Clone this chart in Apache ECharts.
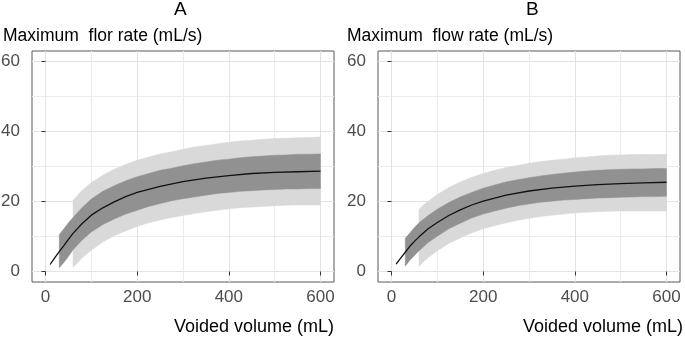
<!DOCTYPE html>
<html>
<head>
<meta charset="utf-8">
<script src="https://cdn.jsdelivr.net/npm/echarts@6.0.0/dist/echarts.min.js"></script>
<style>
  html, body { margin: 0; padding: 0; background: #fff; }
  #chart { width: 685px; height: 339px; }
</style>
</head>
<body>
<div id="chart"></div>
<script>
// x positions (voided volume, mL)
const meanX = [10, 20, 30, 40, 50, 60, 80, 100, 125, 150, 175, 200, 250, 300, 350, 400, 450, 500, 550, 600];
const darkX = [30, 40, 50, 60, 80, 100, 125, 150, 175, 200, 225, 250, 275, 300, 325, 350, 375, 400, 425, 450, 475, 500, 525, 550, 575, 600];
const lightX = [60, 70, 80, 100, 125, 150, 175, 200, 225, 250, 275, 300, 325, 350, 375, 400, 425, 450, 475, 500, 525, 550, 575, 600];

// panel A
const meanA = [2.0, 3.9, 5.7, 7.4, 9.2, 10.9, 13.7, 16.1, 18.2, 19.9, 21.4, 22.6, 24.3, 25.7, 26.7, 27.4, 28.0, 28.3, 28.5, 28.7];
const darkLoA = [1.1, 2.6, 4.3, 6.2, 9.0, 11.3, 13.4, 15.0, 16.4, 17.5, 18.6, 19.4, 20.2, 20.8, 21.3, 21.8, 22.3, 22.6, 22.9, 23.1, 23.3, 23.4, 23.6, 23.6, 23.7, 23.7];
const darkHiA = [10.5, 12.2, 13.9, 15.4, 18.3, 20.7, 22.9, 24.5, 25.9, 27.1, 28.0, 28.9, 29.5, 30.2, 30.8, 31.3, 31.8, 32.1, 32.5, 32.8, 33.0, 33.2, 33.3, 33.5, 33.5, 33.6];
const lightLoA = [1.2, 2.5, 3.9, 6.1, 8.4, 10.2, 11.6, 12.9, 13.9, 14.7, 15.4, 16.0, 16.6, 17.1, 17.5, 17.9, 18.2, 18.4, 18.6, 18.8, 18.9, 19.0, 19.0, 19.0];
const lightHiA = [20.3, 21.8, 23.2, 25.4, 27.5, 29.2, 30.6, 31.8, 32.7, 33.6, 34.2, 34.9, 35.6, 36.0, 36.5, 36.9, 37.3, 37.5, 37.8, 38.0, 38.1, 38.2, 38.3, 38.4];

// panel B
const meanB = [2.1, 3.8, 5.5, 7.2, 8.6, 9.9, 12.2, 14.0, 16.0, 17.6, 19.0, 20.1, 21.8, 23.0, 23.8, 24.4, 24.8, 25.1, 25.3, 25.5];
const darkLoB = [1.5, 3.2, 4.6, 5.9, 8.3, 10.1, 12.2, 13.8, 15.3, 16.4, 17.3, 18.1, 18.8, 19.3, 19.8, 20.1, 20.4, 20.6, 20.8, 21.0, 21.1, 21.2, 21.3, 21.4, 21.4, 21.5];
const darkHiB = [9.5, 11.0, 12.6, 13.9, 16.0, 17.8, 19.7, 21.3, 22.6, 23.8, 24.7, 25.6, 26.2, 26.8, 27.3, 27.7, 28.1, 28.4, 28.7, 28.9, 29.1, 29.2, 29.3, 29.3, 29.4, 29.4];
const lightLoB = [1.4, 2.8, 4.0, 5.9, 8.0, 9.6, 11.0, 12.2, 13.1, 13.9, 14.6, 15.2, 15.7, 16.1, 16.4, 16.7, 16.9, 17.1, 17.2, 17.3, 17.3, 17.3, 17.3, 17.3];
const lightHiB = [17.7, 19.0, 20.1, 22.0, 24.0, 25.6, 26.9, 28.0, 28.9, 29.7, 30.3, 30.9, 31.4, 31.8, 32.1, 32.5, 32.7, 33.0, 33.2, 33.3, 33.4, 33.4, 33.4, 33.4];

const xMajor = [0, 200, 400, 600];
const xMinor = [100, 300, 500];
const yMajor = [0, 20, 40, 60];
const yMinor = [10, 30, 50];

const FONT = '"Liberation Sans", Arial, sans-serif';
const LIGHT = '#d9d9d9';
const DARK = '#919191';

const chart = echarts.init(document.getElementById('chart'), null, { renderer: 'canvas' });

function xAxes(gridIndex) {
  return [{
    type: 'value', gridIndex, min: -29.5, max: 629.5,
    axisLine: { show: false },
    axisTick: { show: true, length: 4, customValues: xMajor, lineStyle: { color: '#333', width: 1 } },
    axisLabel: { customValues: xMajor, margin: 7, fontSize: 17, color: '#4d4d4d', fontFamily: FONT },
    splitLine: { show: true, lineStyle: { color: '#e3e3e3', width: 1 } }
  }, {
    type: 'value', gridIndex, min: -29.5, max: 629.5, position: 'bottom',
    axisLine: { show: false },
    axisTick: { show: false, customValues: xMinor },
    axisLabel: { show: false },
    splitLine: { show: true, lineStyle: { color: '#ebebeb', width: 1 } }
  }];
}

function yAxes(gridIndex) {
  return [{
    type: 'value', gridIndex, min: -3, max: 63,
    axisLine: { show: false },
    axisTick: { show: true, length: 4, customValues: yMajor, lineStyle: { color: '#333', width: 1 } },
    axisLabel: { customValues: yMajor, margin: 12, fontSize: 17, color: '#4d4d4d', fontFamily: FONT },
    splitLine: { show: true, lineStyle: { color: '#e3e3e3', width: 1 } }
  }, {
    type: 'value', gridIndex, min: -3, max: 63, position: 'left',
    axisLine: { show: false },
    axisTick: { show: false, customValues: yMinor },
    axisLabel: { show: false },
    splitLine: { show: true, lineStyle: { color: '#ebebeb', width: 1 } }
  }];
}

function band(axisIndex, xs, lo, hi, color, z) {
  return {
    type: 'custom',
    xAxisIndex: axisIndex, yAxisIndex: axisIndex,
    data: xs.map((x, i) => [x, lo[i], hi[i]]),
    encode: { x: 0, y: [1, 2] },
    silent: true,
    z,
    renderItem(params, api) {
      if (params.dataIndexInside !== 0) return null;
      const n = params.dataInsideLength;
      const top = [], bottom = [];
      for (let i = 0; i < n; i++) {
        const x = api.value(0, i);
        top.push(api.coord([x, api.value(2, i)]));
        bottom.push(api.coord([x, api.value(1, i)]));
      }
      return {
        type: 'polygon',
        shape: { points: top.concat(bottom.reverse()) },
        style: { fill: color, stroke: color, lineWidth: 0.5 }
      };
    }
  };
}

function meanLine(axisIndex, ys) {
  return {
    type: 'line',
    xAxisIndex: axisIndex, yAxisIndex: axisIndex,
    data: meanX.map((x, i) => [x, ys[i]]),
    showSymbol: false,
    silent: true,
    z: 5,
    lineStyle: { color: '#111', width: 1.3 }
  };
}

function txt(text, pos, size) {
  return Object.assign({
    text, padding: 0,
    textStyle: { fontSize: size, fontWeight: 'normal', color: '#000', fontFamily: FONT }
  }, pos);
}

const option = {
  animation: false,
  backgroundColor: '#fff',
  title: [
    txt('A', { left: 174, top: 0 }, 19),
    txt('B', { left: 526, top: 0 }, 19),
    txt('Maximum  flor rate (mL/s)', { left: 3, top: 27 }, 17.5),
    txt('Maximum  flow rate (mL/s)', { left: 347, top: 27 }, 17.5),
    txt('Voided volume (mL)', { right: 351, top: 318 }, 18),
    txt('Voided volume (mL)', { right: 2, top: 318 }, 18)
  ],
  grid: [
    { left: 32, width: 302, top: 51, height: 231, show: true, borderColor: '#595959', borderWidth: 1, backgroundColor: 'transparent', outerBoundsMode: 'none' },
    { left: 378, width: 302, top: 51, height: 231, show: true, borderColor: '#595959', borderWidth: 1, backgroundColor: 'transparent', outerBoundsMode: 'none' }
  ],
  xAxis: [...xAxes(0), ...xAxes(1)],
  yAxis: [...yAxes(0), ...yAxes(1)],
  series: [
    band(0, lightX, lightLoA, lightHiA, LIGHT, 2),
    band(0, darkX, darkLoA, darkHiA, DARK, 3),
    meanLine(0, meanA),
    band(2, lightX, lightLoB, lightHiB, LIGHT, 2),
    band(2, darkX, darkLoB, darkHiB, DARK, 3),
    meanLine(2, meanB)
  ]
};

chart.setOption(option);
</script>
</body>
</html>
